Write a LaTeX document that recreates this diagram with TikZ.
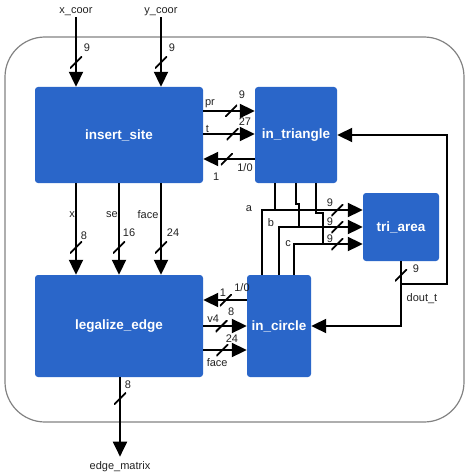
\documentclass[tikz,border=0pt]{standalone}
\usepackage{fontspec}
\setmainfont{Liberation Sans}
\usetikzlibrary{arrows.meta}
\definecolor{blockblue}{RGB}{42,102,201}
\definecolor{framegray}{RGB}{130,130,130}
\definecolor{labelgray}{RGB}{34,34,34}
\begin{document}
\begin{tikzpicture}[
  x=1pt, y=-1pt,
  block/.style={fill=blockblue, rounded corners=3pt, text=white, inner sep=0pt, font=\fontsize{13.5}{16}\selectfont\bfseries},
  lbl/.style={text=labelgray, inner sep=1pt, font=\fontsize{11}{13}\selectfont},
  wire/.style={line width=2pt},
  arrow/.style={wire, -{Triangle[length=15pt,width=14pt]}},
  bus/.style={minimum size=12pt, inner sep=0pt, path picture={\draw[-, line width=1.8pt] (path picture bounding box.south west) -- (path picture bounding box.north east);}}
]
\useasboundingbox (0,0) rectangle (474,476);
\draw[framegray, line width=1.2pt, rounded corners=40pt] (5,37) rectangle (464,422);

\node (insert_site) [block, minimum width=168pt, minimum height=96pt] at (119,135) {insert\_site};
\node (in_triangle) [block, minimum width=82pt, minimum height=96pt] at (296,135) {in\_triangle};
\node (tri_area) [block, minimum width=76pt, minimum height=68pt] at (401,227) {tri\_area};
\node (legalize_edge) [block, minimum width=168pt, minimum height=102pt] at (119,326) {legalize\_edge};
\node (in_circle) [block, minimum width=64pt, minimum height=102pt] at (279,326) {in\_circle};
\node (x_coor) [lbl] at (76,12) {x\_coor};
\node (y_coor) [lbl] at (161,12) {y\_coor};
\node (edge_matrix) [lbl, inner sep=5pt] at (120,467) {edge\_matrix};
\coordinate (a_in) at ([yshift=17pt]tri_area.west);
\coordinate (c_in) at ([yshift=-17pt]tri_area.west);

\draw[arrow] (x_coor) -- node[bus, pos=.65]{} node[lbl, pos=.44, xshift=11pt]{9} (insert_site.north -| x_coor);
\draw[arrow] (y_coor) -- node[bus, pos=.65]{} node[lbl, pos=.44, xshift=11pt]{9} (insert_site.north -| y_coor);

\draw[arrow] ([yshift=24pt]insert_site.east) -- node[lbl, pos=.13, yshift=7pt]{pr} node[bus, pos=.54]{} node[lbl, pos=.75, yshift=16pt]{9} ([yshift=24pt]in_triangle.west);
\draw[arrow] ([yshift=1pt]insert_site.east) -- node[lbl, pos=.08, yshift=5pt]{t} node[bus, pos=.57]{} node[lbl, pos=.81, yshift=12pt]{27} ([yshift=1pt]in_triangle.west);
\draw[arrow] ([yshift=-24pt]in_triangle.west) -- node[bus, pos=.54]{} node[lbl, pos=.19, yshift=-9pt]{1/0} node[lbl, pos=.75, yshift=-18pt]{1} ([yshift=-24pt]insert_site.east);

\draw[arrow] (insert_site.south -| x_coor) -- node[lbl, pos=.34, xshift=-4pt]{x} node[bus, pos=.7]{} node[lbl, pos=.57, xshift=8pt]{8} (legalize_edge.north -| x_coor);
\draw[arrow] (insert_site.south) -- node[lbl, pos=.34, xshift=-7pt]{se} node[bus, pos=.7]{} node[lbl, pos=.54, xshift=10pt]{16} (legalize_edge.north);
\draw[arrow] (insert_site.south -| y_coor) -- node[lbl, pos=.34, xshift=-13pt]{face} node[bus, pos=.7]{} node[lbl, pos=.54, xshift=12pt]{24} (legalize_edge.north -| y_coor);

\draw[arrow] (legalize_edge.south -| edge_matrix) -- node[bus, pos=.27]{} node[lbl, pos=.10, xshift=8pt]{8} (edge_matrix);

\draw[arrow] ([xshift=-17pt]in_circle.north) |- node[lbl, pos=.5, xshift=-13pt, yshift=1pt]{a} node[bus, pos=.874]{} node[lbl, pos=.837, yshift=7pt]{9} (a_in);
\draw[arrow] (in_circle.north) |- node[lbl, pos=.5, xshift=-8pt, yshift=4pt]{b} node[bus, pos=.848]{} node[lbl, pos=.804, yshift=5pt]{9} (tri_area.west);
\draw[arrow] ([xshift=15pt]in_circle.north) |- node[lbl, pos=.5, xshift=-6pt]{c} node[bus, pos=.815]{} node[lbl, pos=.761, yshift=5pt]{9} (c_in);

\draw[wire] ([xshift=-21pt]in_triangle.south) coordinate (t_a) -- (t_a |- a_in);
\draw[wire] (in_triangle.south) -- ++(0,21) -- ++(3,0) coordinate (t_b) -- (t_b |- tri_area.west);
\draw[wire] ([xshift=20pt]in_triangle.south) -- ++(0,30) -- ++(7,0) coordinate (t_c) -- (t_c |- c_in);

\draw[arrow] (tri_area.south) -- node[bus, pos=.215]{} node[lbl, pos=.12, xshift=15pt]{9} node[lbl, pos=.57, xshift=21pt]{dout\_t} (tri_area.south |- in_circle.east) -- (in_circle.east);
\draw[arrow] ([yshift=-23pt]tri_area.south) -- ++(46,0) |- (in_triangle.east);

\draw[arrow] ([yshift=26pt]in_circle.west) -- node[bus, pos=.48]{} node[lbl, pos=.11, yshift=12pt]{1/0} node[lbl, pos=.55, yshift=7pt]{1} ([yshift=26pt]legalize_edge.east);
\draw[arrow] (legalize_edge.east) -- node[lbl, pos=.23, yshift=7pt]{v4} node[bus, pos=.42]{} node[lbl, pos=.64, yshift=14pt]{8} (in_circle.west);
\draw[arrow] ([yshift=-24pt]legalize_edge.east) -- node[lbl, pos=.32, yshift=-13pt]{face} node[bus, pos=.44]{} node[lbl, pos=.66, yshift=11pt]{24} ([yshift=-24pt]in_circle.west);
\end{tikzpicture}
\end{document}
